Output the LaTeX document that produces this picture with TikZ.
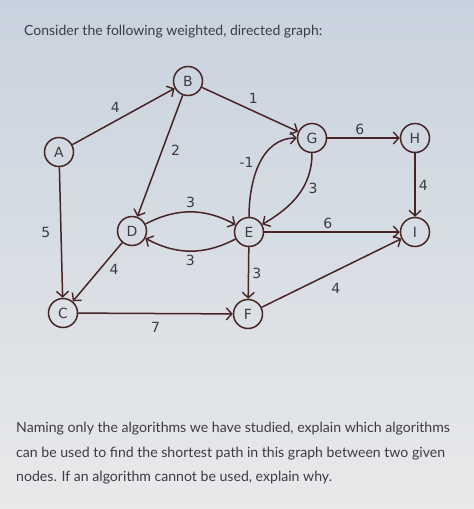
\documentclass[tikz,border=0pt]{standalone}
\usepackage{fontspec}
\setmainfont{Lato}
\newfontfamily\labelfont{DejaVu Sans}
\usetikzlibrary{arrows.meta}
\definecolor{edgecol}{RGB}{72,36,36}
\definecolor{txtcol}{RGB}{60,60,66}
\definecolor{bgtop}{RGB}{200,210,222}
\definecolor{bgbot}{RGB}{232,233,234}
\tikzset{
  vertex/.style={draw=edgecol,circle,line width=1.5pt,minimum size=29pt,inner sep=0pt,font=\labelfont\fontsize{14}{14}\selectfont,text=txtcol},
  arc/.style={-{Straight Barb[length=5.5pt,width=12pt,line width=1.4pt]},draw=edgecol,line width=1.5pt},
  wt/.style={font=\labelfont\fontsize{14}{14}\selectfont,text=txtcol,inner sep=3pt}
}
\begin{document}
\begin{tikzpicture}[x=1pt,y=1pt]
			\shade[top color=bgtop,bottom color=bgbot] (0,0) rectangle (474,-509);
			\useasboundingbox (0,0) rectangle (474,-509);
			\node[anchor=base west,text=txtcol,font=\fontsize{14}{16}\selectfont,inner sep=0pt] (title) at (24,-35) {Consider the following weighted, directed graph:};
			\node[vertex] (a) at (59,-152) {A};
			\node[vertex] (b) at (188,-81) {B};
			\node[vertex] (c) at (63,-313) {C};
			\node[vertex] (d) at (132,-231) {D};
			\node[vertex] (e) at (249,-232) {E};
			\node[vertex] (f) at (248,-314) {F};
			\node[vertex] (g) at (312,-138) {G};
			\node[vertex] (h) at (415,-138) {H};
			\node[vertex] (i) at (415,-232) {I};
			\draw[arc](a)--node[wt,above left]{4}(b);
			\draw[arc](b)--node[wt,above right,pos=0.45]{1}(g);
			\draw[arc](b)--node[wt,right=5pt,pos=0.45]{2}(d);
			\draw[arc](a)--node[wt,left=7pt]{5}(c);
			\draw[arc](d) to[bend left=28] node[wt,above]{3}(e);
			\draw[arc](e) to[bend left=28] node[wt,below]{3}(d);
			\draw[arc](e) to[out=90,in=180] node[wt,left=3pt,pos=0.52]{-1}(g);
			\draw[arc](g) to[out=-90,in=30] node[wt,right=2pt,pos=0.4]{3}(e);
			\draw[arc](g)--node[wt,above,pos=0.45]{6}(h);
			\draw[arc](h)--node[wt,right]{4}(i);
			\draw[arc](e)--node[wt,above,pos=0.47]{6}(i);
			\draw[arc](e)--node[wt,right]{3}(f);
			\draw[arc](d)--node[wt,right=6pt,pos=0.45]{4}(c);
			\draw[arc](c)--node[wt,below=5pt]{7}(f);
			\draw[arc](f)--node[wt,below right=3pt,pos=0.45]{4}(i);
			\node[anchor=north west,align=left,text=txtcol,font=\fontsize{14.1}{24.5}\selectfont,inner sep=0pt] (question) at (16,-422) {Naming only the algorithms we have studied, explain which algorithms\\can be used to find the shortest path in this graph between two given\\nodes. If an algorithm cannot be used, explain why.};
		\end{tikzpicture}
\end{document}
